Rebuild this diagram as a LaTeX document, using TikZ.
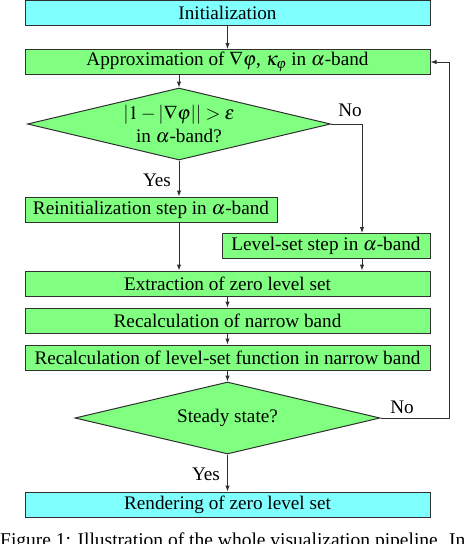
\documentclass[tikz,border=0pt]{standalone}
\usepackage{mathptmx}
\usepackage[no-math]{fontspec}
\setmainfont{Liberation Serif}
\usetikzlibrary{shapes.geometric,arrows.meta}
\definecolor{boxgreen}{HTML}{80FF80}
\definecolor{boxcyan}{HTML}{80FFFF}
\definecolor{edgegray}{HTML}{303030}
\tikzset{
  stepbox/.style={draw=edgegray, line width=1pt, fill=boxgreen, minimum height=25pt, inner sep=0pt},
  endbox/.style={stepbox, fill=boxcyan},
  testbox/.style={diamond, draw=edgegray, line width=1pt, fill=boxgreen, shape aspect=4.2, minimum height=72pt, inner sep=0pt, align=center},
  flow/.style={draw=edgegray, line width=1pt, -{Latex[length=6pt,width=4.5pt]}},
}
\begin{document}
\begin{tikzpicture}[x=1pt, y=-1pt, font=\fontsize{19.2}{23}\selectfont]
  \clip (0,0) rectangle (474,544);

  % top of the pipeline
  \node[endbox, minimum width=405pt] (init) at (227.5,13) {Initialization};
  \node[stepbox, minimum width=405pt] (approx) at (227.5,62) {Approximation of $\nabla\varphi$, $\kappa_\varphi$ in $\alpha$-band};

  % first test
  \node[testbox, minimum width=303pt] (test) at (179,124) {$|1-|\nabla\varphi||>\varepsilon$\\in $\alpha$-band?};
  \node (no1) at (350,110) {No};
  \node (yes1) at (157,180) {Yes};
  \coordinate (noturn) at (362,124);

  % the two branches
  \node[stepbox, minimum width=252pt] (reinit) at (151,209.5) {Reinitialization step in $\alpha$-band};
  \node[stepbox, minimum width=208pt] (levelset) at (326,246) {Level-set step in $\alpha$-band};

  % common steps
  \node[stepbox, minimum width=405pt] (extract) at (227.5,283.5) {Extraction of zero level set};
  \node[stepbox, minimum width=405pt] (narrow) at (227.5,320.5) {Recalculation of narrow band};
  \node[stepbox, minimum width=405pt] (recalc) at (227.5,357.5) {Recalculation of level-set function in narrow band};

  % second test
  \node[testbox, minimum width=305pt] (steady) at (227.5,418) {Steady state?};
  \node (no2) at (402,407) {No};
  \node (yes2) at (206,474) {Yes};
  \coordinate (loopturn) at (449,418);

  \node[endbox, minimum width=405pt] (render) at (227.5,504.5) {Rendering of zero level set};

  % caption, cut by the page edge
  \node[anchor=base west, inner sep=0pt, font=\fontsize{19.5}{22}\selectfont] (caption) at (0,546) {Figure 1: Illustration of the whole visualization pipeline. In};

  % connectors
  \draw[flow] (init) -- (approx);
  \draw[flow] (approx.south -| test.north) -- (test.north);
  \draw[flow] (test.south) -- (test.south |- reinit.north);
  \draw[flow] (test.east) -- (noturn) -- (noturn |- levelset.north);
  \draw[flow] (test.south |- reinit.south) -- (test.south |- extract.north);
  \draw[flow] (noturn |- levelset.south) -- (noturn |- extract.north);
  \draw[flow] (extract) -- (narrow);
  \draw[flow] (narrow) -- (recalc);
  \draw[flow] (recalc) -- (steady);
  \draw[flow] (steady) -- (render);
  \draw[flow] (steady.east) -- (loopturn) |- (approx.east);
\end{tikzpicture}
\end{document}
